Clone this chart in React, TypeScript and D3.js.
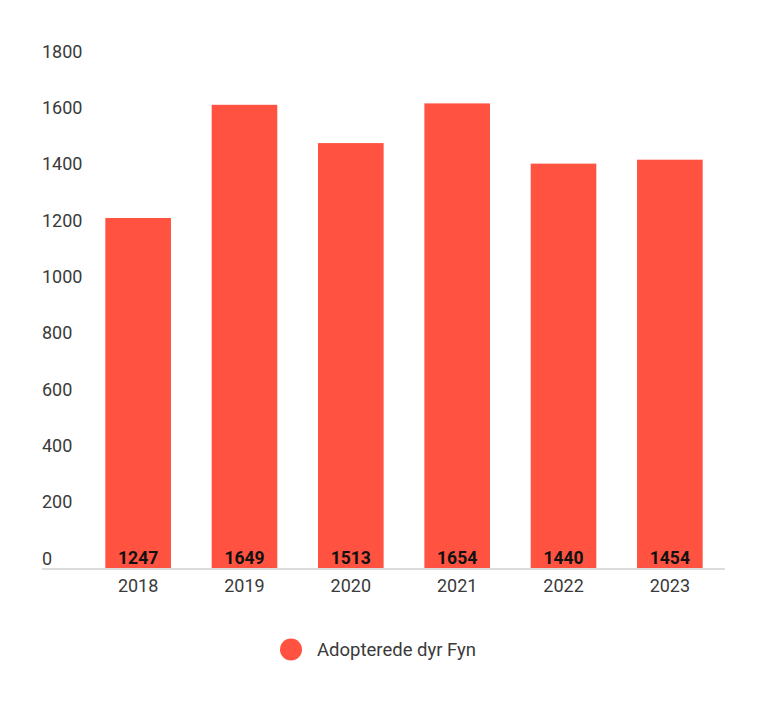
import { useEffect, useRef } from "react";
import * as d3 from "d3";

const years = ["2018", "2019", "2020", "2021", "2022", "2023"];
const adopted = [1247, 1649, 1513, 1654, 1440, 1454];
const yTicks = [0, 200, 400, 600, 800, 1000, 1200, 1400, 1600, 1800];
const seriesName = "Adopterede dyr Fyn";

const W = 770;
const H = 709;
const RED = "#ff5240";
const FONT = "Roboto, sans-serif";
const TEXT = "#3a3a3a";

export default function App() {
  const ref = useRef<SVGSVGElement>(null);

  useEffect(() => {
    const svg = d3.select(ref.current);
    svg.selectAll("*").remove();

    const x = d3
      .scaleBand()
      .domain(years)
      .range([64.6, 743.4])
      .padding(0.383);

    const y = d3.scaleLinear().domain([0, 1800]).range([569, 62.3]);

    // y tick labels sit above their (invisible) gridlines
    svg
      .append("g")
      .selectAll("text")
      .data(yTicks)
      .join("text")
      .attr("x", 42)
      .attr("y", (d) => y(d) - 4.5)
      .attr("font-family", FONT)
      .attr("font-size", 18)
      .attr("fill", TEXT)
      .text((d) => d);

    svg
      .append("g")
      .selectAll("rect")
      .data(adopted)
      .join("rect")
      .attr("x", (_, i) => x(years[i]) ?? 0)
      .attr("y", (d) => y(d))
      .attr("width", x.bandwidth())
      .attr("height", (d) => y(0) - y(d))
      .attr("fill", RED);

    svg
      .append("line")
      .attr("x1", 42)
      .attr("x2", 725)
      .attr("y1", y(0))
      .attr("y2", y(0))
      .attr("stroke", "#dcdcdc")
      .attr("stroke-width", 2);

    // value labels at the foot of each bar
    svg
      .append("g")
      .selectAll("text")
      .data(adopted)
      .join("text")
      .attr("x", (_, i) => (x(years[i]) ?? 0) + x.bandwidth() / 2)
      .attr("y", y(0) - 5.5)
      .attr("text-anchor", "middle")
      .attr("font-family", FONT)
      .attr("font-weight", "bold")
      .attr("font-size", 17.5)
      .attr("fill", "#111")
      .text((d) => d);

    svg
      .append("g")
      .selectAll("text")
      .data(years)
      .join("text")
      .attr("x", (d) => (x(d) ?? 0) + x.bandwidth() / 2)
      .attr("y", 592)
      .attr("text-anchor", "middle")
      .attr("font-family", FONT)
      .attr("font-size", 18)
      .attr("fill", TEXT)
      .text((d) => d);

    const legend = svg.append("g").attr("transform", "translate(291,649.5)");
    legend.append("circle").attr("r", 11).attr("fill", RED);
    legend
      .append("text")
      .attr("x", 26)
      .attr("y", 6.5)
      .attr("font-family", FONT)
      .attr("font-size", 18.5)
      .attr("fill", TEXT)
      .text(seriesName);
  }, []);

  return (
    <svg
      ref={ref}
      width={W}
      height={H}
      style={{ position: "absolute", left: 0, top: 0, background: "#fff" }}
    />
  );
}
